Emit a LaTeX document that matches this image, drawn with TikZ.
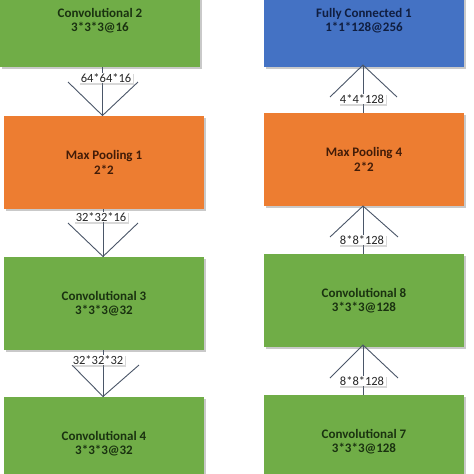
\documentclass[tikz,border=0pt]{standalone}
\usepackage{fontspec}
\setmainfont{Carlito}
\usetikzlibrary{shadows}
\definecolor{cgreen}{HTML}{70AD47}
\definecolor{corange}{HTML}{ED7D31}
\definecolor{cblue}{HTML}{4472C4}
\definecolor{tgreen}{HTML}{1A3210}
\definecolor{torange}{HTML}{421C08}
\definecolor{tblue}{HTML}{101E40}
\definecolor{cline}{HTML}{4A5668}
\tikzset{
  layerbox/.style={rectangle, minimum width=200pt, minimum height=93pt, inner sep=0pt,
    align=center, font=\bfseries\fontsize{13}{14.5}\selectfont,
    drop shadow={shadow xshift=2pt, shadow yshift=-2pt, opacity=0.35, fill=black!60}},
  convbox/.style={layerbox, fill=cgreen, text=tgreen},
  poolbox/.style={layerbox, fill=corange, text=torange},
  fcbox/.style={layerbox, fill=cblue, text=tblue},
  dimlabel/.style={rectangle, fill=white, inner xsep=1.5pt, inner ysep=1pt,
    font=\fontsize{12.5}{14}\selectfont, text=black!85,
    drop shadow={shadow xshift=1.2pt, shadow yshift=-1.2pt, opacity=0.3, fill=black!50}},
  funnel/.style={draw=cline, line width=0.9pt}
}
\begin{document}
\begin{tikzpicture}[x=1pt,y=-1pt]
\useasboundingbox (0,0) rectangle (474,474);
\fill[white] (0,0) rectangle (474,474);
\begin{scope}
\clip (0,0) rectangle (474,474);
% boxes
\node[convbox] (c2) at (100,20.5) {Convolutional 2\\3*3*3@16};
\node[poolbox] (p1) at (104,162.5) {Max Pooling 1\\2*2};
\node[convbox] (c3) at (104,303.5) {Convolutional 3\\3*3*3@32};
\node[convbox] (c4) at (104,443.5) {Convolutional 4\\3*3*3@32};
\node[fcbox] (f1) at (364,20.5) {Fully Connected 1\\1*1*128@256};
\node[poolbox] (p4) at (364,159.5) {Max Pooling 4\\2*2};
\node[convbox] (c8) at (364,300.5) {Convolutional 8\\3*3*3@128};
\node[convbox] (c7) at (364,441.5) {Convolutional 7\\3*3*3@128};
% funnel coordinates, left (downward)
\coordinate (la1) at (102.5,115.5);
\coordinate (ll1) at (68,82);
\coordinate (lr1) at (138,82);
\coordinate (la2) at (103,256.5);
\coordinate (ll2) at (68,223);
\coordinate (lr2) at (138,223);
\coordinate (la3) at (103,396.5);
\coordinate (ll3) at (72,365);
\coordinate (lr3) at (139,365);
% right (upward)
\coordinate (ra1) at (363,65);
\coordinate (rl1) at (330,97);
\coordinate (rr1) at (397,97);
\coordinate (ra2) at (363,206);
\coordinate (rl2) at (330,237);
\coordinate (rr2) at (398,237);
\coordinate (ra3) at (363,345);
\coordinate (rl3) at (330,378);
\coordinate (rr3) at (398,378);
% connectors
\draw[funnel] (la1 |- c2.south) -- (la1 |- p1.north);
\draw[funnel] (ll1) -- (la1) -- (lr1);
\draw[funnel] (la2 |- p1.south) -- (la2 |- c3.north);
\draw[funnel] (ll2) -- (la2) -- (lr2);
\draw[funnel] (la3 |- c3.south) -- (la3 |- c4.north);
\draw[funnel] (ll3) -- (la3) -- (lr3);
\draw[funnel] (ra1 |- p4.north) -- (ra1);
\draw[funnel] (rl1) -- (ra1) -- (rr1);
\draw[funnel] (ra2 |- c8.north) -- (ra2);
\draw[funnel] (rl2) -- (ra2) -- (rr2);
\draw[funnel] (ra3 |- c7.north) -- (ra3);
\draw[funnel] (rl3) -- (ra3) -- (rr3);
% labels
\node[dimlabel] (d1) at (106,78) {64*64*16};
\node[dimlabel] (d2) at (101,217) {32*32*16};
\node[dimlabel] (d3) at (98,360) {32*32*32};
\node[dimlabel] (d4) at (362,99) {4*4*128};
\node[dimlabel] (d5) at (362,240) {8*8*128};
\node[dimlabel] (d6) at (362,381) {8*8*128};
\end{scope}
\end{tikzpicture}
\end{document}
